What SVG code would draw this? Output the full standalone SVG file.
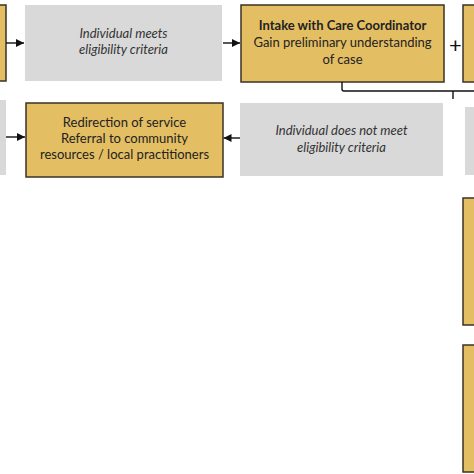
<svg xmlns="http://www.w3.org/2000/svg" width="474" height="474" viewBox="0 0 474 474">
<style>
.y{fill:#E4BE62;stroke:#3a3224;stroke-width:1.5}
.g{fill:#D9D9D9;stroke:none}
.t{font-family:Lato,"Open Sans",sans-serif;font-size:13px;fill:#222;text-anchor:middle}
.i{font-style:italic;fill:#333}
.b{font-weight:bold}
.c{stroke:#111;stroke-width:1.4;fill:none}
</style>
<defs>
<marker id="ah" viewBox="0 0 10 10" refX="10" refY="5" markerWidth="8" markerHeight="8" markerUnits="userSpaceOnUse" orient="auto">
<path d="M0,0 L10,5 L0,10 z" fill="#111"/>
</marker>
</defs>
<rect width="474" height="474" fill="#fff"/>
<g id="node-left-top"><rect class="y" x="-10" y="5" width="16" height="76"/></g>
<g id="node-left-bottom"><rect class="g" x="-10" y="100" width="16" height="75"/></g>
<g id="node-meets">
<rect class="g" x="25" y="5" width="197" height="76"/>
<text class="t i" x="123.5" y="38">Individual meets</text>
<text class="t i" x="123.5" y="54">eligibility criteria</text>
</g>
<g id="node-intake">
<rect class="y" x="241" y="5" width="203" height="77"/>
<text class="t b" x="342.5" y="30">Intake with Care Coordinator</text>
<text class="t" x="342.5" y="47">Gain preliminary understanding</text>
<text class="t" x="342.5" y="64">of case</text>
</g>
<g id="node-redirect">
<rect class="y" x="26" y="103" width="197" height="74"/>
<text class="t" x="124.5" y="127">Redirection of service</text>
<text class="t" x="124.5" y="143">Referral to community</text>
<text class="t" x="124.5" y="159">resources / local practitioners</text>
</g>
<g id="node-not-meet">
<rect class="g" x="240" y="103" width="203" height="73"/>
<text class="t i" x="341.5" y="135">Individual does not meet</text>
<text class="t i" x="341.5" y="152">eligibility criteria</text>
</g>
<g id="node-right-top"><rect class="y" x="463" y="5" width="20" height="77"/></g>
<g id="node-right-gray"><rect class="g" x="465" y="107" width="20" height="68"/></g>
<g id="node-right-mid"><rect class="y" x="463" y="198" width="20" height="127"/></g>
<g id="node-right-bottom"><rect class="y" x="463" y="345" width="20" height="127"/></g>
<g id="plus"><text x="455.5" y="53" style="font-family:Lato,sans-serif;font-size:22px;fill:#111;text-anchor:middle">+</text></g>
<g id="connectors">
<line class="c" x1="6" y1="43" x2="24" y2="43" marker-end="url(#ah)"/>
<line class="c" x1="223" y1="43" x2="240" y2="43" marker-end="url(#ah)"/>
<line class="c" x1="6" y1="137" x2="25" y2="137" marker-end="url(#ah)"/>
<line class="c" x1="240" y1="138" x2="223.5" y2="138" marker-end="url(#ah)"/>
<path class="c" d="M342,82 V89 Q342,91 344,91 H476"/>
<line class="c" x1="453" y1="91" x2="453" y2="99"/>
</g>
</svg>
